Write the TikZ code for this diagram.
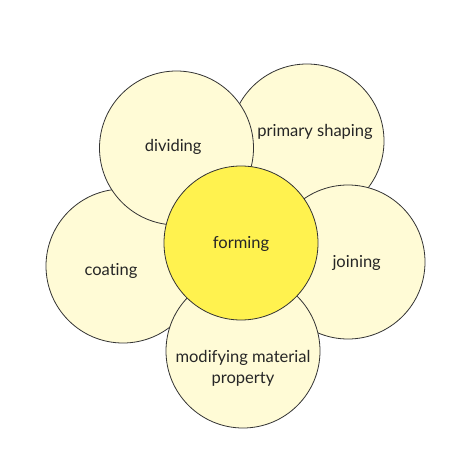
\documentclass[tikz,border=0pt]{standalone}
\usepackage{fontspec}
\setmainfont{Lato}[Ligatures={NoCommon,NoContextual}]
\usepackage{tikz}
\definecolor{petalfill}{HTML}{FFFBD6}
\definecolor{heartfill}{HTML}{FFF24F}
\definecolor{rimcolor}{HTML}{333333}
\tikzset{
  petal/.style={circle,draw=rimcolor,line width=0.6pt,fill=petalfill,minimum size=154*0.75pt,inner sep=0pt},
  heart/.style={petal,fill=heartfill},
  every label/.style={font=\fontsize{12.4pt}{16pt}\selectfont,text=black!85,align=center}
}

\begin{document}
\begin{tikzpicture}[x=0.75pt,y=-0.75pt]
  \useasboundingbox (0,0) rectangle (455,460);
  \node[petal,label={[xshift=6pt,yshift=6.5pt]center:primary shaping}] (shaping) at (307,141) {};
  \node[petal,label={[xshift=6.5pt,yshift=-0.8pt]center:joining}] (joining) at (348,262) {};
  \node[petal,label={[xshift=-9pt,yshift=-3.8pt]center:coating}] (coating) at (123,266) {};
  \node[petal,label={[xshift=-2.5pt,yshift=0.5pt]center:dividing}] (dividing) at (176.5,148) {};
  \node[petal,label={[yshift=-12.8pt]center:modifying material\\property}] (modifying) at (243,351) {};
  \node[heart,label={[yshift=-1pt]center:forming}] (forming) at (241,243) {};
\end{tikzpicture}
\end{document}
